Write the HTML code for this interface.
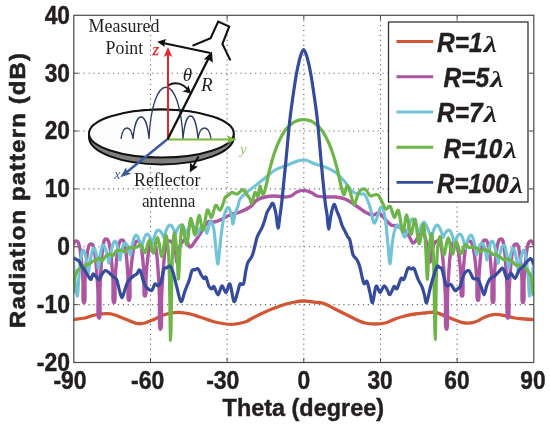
<!DOCTYPE html>
<html><head><meta charset="utf-8"><title>Radiation pattern</title>
<style>html,body{margin:0;padding:0;background:#fff}svg{display:block}text{font-family:"Liberation Sans",Arial,sans-serif}.s{font-family:"Liberation Serif","Times New Roman",serif}</style></head><body>
<svg width="550" height="430" viewBox="0 0 550 430">
<rect width="550" height="430" fill="#fff"/>
<path d="M150.5,15.3V362.5M227.1,15.3V362.5M303.8,15.3V362.5M380.5,15.3V362.5M457.1,15.3V362.5M73.8,73.2H533.8M73.8,131.0H533.8M73.8,188.9H533.8M73.8,246.8H533.8M73.8,304.6H533.8" stroke="#6a6a6a" stroke-width="1.1" stroke-dasharray="1.2 3.7" fill="none"/>
<g id="inset">
<ellipse cx="161.4" cy="137" rx="72.4" ry="27.4" fill="#7f7f7f" stroke="#111" stroke-width="2"/>
<ellipse cx="161.4" cy="133.5" rx="72.4" ry="24" fill="#fdfdfd" stroke="#111" stroke-width="2"/>
<path d="M121,139 C123,124.3 131,124.3 133,139 C135.5,109.7 146.5,109.7 149,139 C152,70 180,70 183,139 C185.5,108.3 195.5,108.3 198,139 C200,124.3 209,124.3 211,139" fill="none" stroke="#2a3968" stroke-width="1.3"/>
<path d="M167,139.5L124.5,174" stroke="#3c5a9c" stroke-width="2.4" fill="none"/>
<path d="M120.3,177.3L131.3,173.7L126.9,172.1L126.1,167.3Z" fill="#3c5a9c"/>
<path d="M167,139.5H230" stroke="#7ab83f" stroke-width="2.2" fill="none"/>
<path d="M236.5,139.5L226.5,135.2L229,139.5L226.5,143.8Z" fill="#7ab83f"/>
<path d="M168,139.5V54" stroke="#e3262e" stroke-width="2" fill="none"/>
<path d="M168,47L163.8,57L168,54.8L172.2,57Z" fill="#e3262e"/>
<path d="M167.5,139.5L209,57.5" stroke="#111" stroke-width="2.3" fill="none"/>
<path d="M212,51.6L203.6,59.4L208.6,59.4L212.8,62.8Z" fill="#111"/>
<path d="M210.5,53L163,43" stroke="#111" stroke-width="2.1" fill="none"/>
<path d="M157.2,41.7L166,39L164.4,43.2L164.6,47Z" fill="#111"/>
<path d="M192.5,45.8L210.6,38.2L218.2,21.6L229.2,26.6L222.4,44L230.4,60.4" stroke="#111" stroke-width="2.1" fill="none" stroke-linejoin="miter"/>
<path d="M168.5,85.2C175,81.3 183,83.5 187.5,89.5" stroke="#111" stroke-width="1.9" fill="none"/>
<path d="M191.2,93.6L182.4,91.4L186.6,89.4L188.4,85.2Z" fill="#111"/>
<path d="M198.6,156.3L192.8,167" stroke="#111" stroke-width="1.9" fill="none"/>
<path d="M189.8,172.6L190,162L193,165.8L198,166.4Z" fill="#111"/>
<g fill="#231f20">
<text class="s" x="88.6" y="32" font-size="18.3" textLength="71" lengthAdjust="spacingAndGlyphs">Measured</text>
<text class="s" x="105.6" y="53.6" font-size="18.3" textLength="37.6" lengthAdjust="spacingAndGlyphs">Point</text>
<text class="s" x="134" y="185.8" font-size="18.3" textLength="66.4" lengthAdjust="spacingAndGlyphs">Reflector</text>
<text class="s" x="142" y="207.2" font-size="18.3" textLength="53.4" lengthAdjust="spacingAndGlyphs">antenna</text>
<text class="s" x="182.8" y="80.6" font-size="19" font-style="italic">θ</text>
<text class="s" x="201" y="91" font-size="19" font-style="italic">R</text>
<text class="s" x="152.6" y="55.4" font-size="17" font-style="italic" stroke="#e3262e" stroke-width="0.25" fill="#e3262e">z</text>
<text class="s" x="240" y="153.6" font-size="15" font-style="italic" fill="#94c765">y</text>
<text class="s" x="114.2" y="179" font-size="14" font-style="italic" fill="#3c5a9c">x</text>
</g>
</g>

<clipPath id="c"><rect x="73.8" y="15.3" width="459.99999999999994" height="347.2"/></clipPath>
<g clip-path="url(#c)" fill="none" stroke-linejoin="round" stroke-linecap="round" stroke-width="3.1">
<path d="M73.5,319.5C75.4,319.2 81.4,318.8 85.0,318.0C88.6,317.2 91.3,315.7 95.0,315.0C98.7,314.3 103.7,313.7 107.0,313.7C110.3,313.7 112.0,314.1 115.0,315.0C118.0,315.9 121.3,317.6 125.0,319.0C128.7,320.4 133.7,322.8 137.0,323.5C140.3,324.2 142.0,323.8 145.0,323.0C148.0,322.2 151.7,320.4 155.0,319.0C158.3,317.6 161.2,315.6 165.0,314.5C168.8,313.4 173.8,312.5 178.0,312.4C182.2,312.3 186.3,313.2 190.0,314.0C193.7,314.8 195.8,315.7 200.0,317.0C204.2,318.3 209.8,320.8 215.0,322.0C220.2,323.2 226.0,324.4 231.0,324.4C236.0,324.4 241.8,322.8 245.0,322.0C248.2,321.2 246.7,321.2 250.0,319.5C253.3,317.8 260.0,314.2 265.0,312.0C270.0,309.8 275.0,307.7 280.0,306.0C285.0,304.3 291.1,302.8 295.0,302.0C298.9,301.2 301.0,301.1 303.5,301.0C306.0,300.9 307.6,301.2 310.0,301.5C312.4,301.8 315.5,302.1 318.0,302.5C320.5,302.9 322.2,302.9 325.0,304.0C327.8,305.1 331.7,307.3 335.0,309.0C338.3,310.7 341.7,312.3 345.0,314.0C348.3,315.7 351.7,317.5 355.0,319.0C358.3,320.5 361.7,322.2 365.0,323.0C368.3,323.8 371.7,324.0 375.0,324.0C378.3,324.0 381.7,323.8 385.0,323.0C388.3,322.2 391.7,320.2 395.0,319.0C398.3,317.8 401.7,316.8 405.0,316.0C408.3,315.2 411.7,314.5 415.0,314.0C418.3,313.5 421.7,313.3 425.0,313.0C428.3,312.7 431.7,311.9 435.0,312.4C438.3,312.9 441.7,314.7 445.0,316.0C448.3,317.3 451.7,318.8 455.0,320.0C458.3,321.2 461.7,322.7 465.0,323.0C468.3,323.3 471.7,323.0 475.0,322.0C478.3,321.0 481.7,318.3 485.0,317.0C488.3,315.7 491.7,314.6 495.0,314.4C498.3,314.2 501.7,315.0 505.0,315.6C508.3,316.2 511.7,317.4 515.0,318.0C518.3,318.6 521.9,318.7 525.0,319.0C528.1,319.3 532.1,319.5 533.5,319.6" stroke="#d15634" stroke-width="3.3"/>
<path d="M73.6,243.9C73.8,243.5 74.3,242.0 74.7,241.6C75.0,241.1 75.4,241.1 75.7,241.0C76.1,240.9 76.4,240.9 76.8,241.1C77.1,241.2 77.4,241.4 77.8,241.9C78.1,242.4 78.5,243.1 78.8,244.2C79.2,245.3 79.5,246.7 79.9,248.7C80.2,250.6 80.5,252.9 80.9,255.9C81.2,258.9 81.6,262.3 81.9,266.5C82.3,270.7 82.8,275.4 83.0,281.0C83.2,286.6 82.8,296.8 83.1,300.0C83.4,303.2 84.6,303.3 84.9,300.0C85.2,296.7 84.8,286.1 85.0,280.4C85.2,274.7 85.7,269.9 86.0,265.8C86.3,261.7 86.7,258.5 87.0,255.7C87.3,252.9 87.7,250.9 88.0,249.2C88.3,247.6 88.7,246.5 89.0,245.7C89.3,244.8 89.7,244.5 90.0,244.2C90.3,244.0 90.7,244.0 91.0,244.0C91.3,244.0 91.7,244.0 92.0,244.2C92.3,244.5 92.7,244.7 93.0,245.5C93.3,246.2 93.7,247.1 94.0,248.6C94.3,250.0 94.7,251.8 95.0,254.2C95.3,256.6 95.7,259.5 96.0,263.0C96.3,266.6 96.7,270.8 97.0,275.7C97.3,280.7 97.8,286.3 98.0,292.9C98.2,299.4 97.8,311.3 98.1,315.0C98.4,318.7 99.6,319.4 99.9,315.0C100.2,310.6 99.8,296.1 100.0,288.4C100.2,280.6 100.7,274.2 101.0,268.6C101.3,263.0 101.7,258.6 102.0,254.9C102.3,251.1 102.7,248.4 103.0,246.1C103.3,243.8 103.7,242.4 104.0,241.3C104.3,240.2 104.7,239.7 105.0,239.3C105.3,238.9 105.7,239.0 106.0,239.0C106.3,239.0 106.7,239.0 107.0,239.2C107.3,239.4 107.7,239.6 108.0,240.3C108.3,240.9 108.7,241.7 109.0,242.9C109.3,244.2 109.7,245.7 110.0,247.8C110.3,249.8 110.7,252.3 111.0,255.4C111.3,258.4 111.7,262.0 112.0,266.3C112.3,270.5 112.8,275.3 113.0,281.0C113.2,286.6 112.8,296.8 113.1,300.0C113.4,303.2 114.6,303.1 114.9,300.0C115.2,296.9 114.8,286.8 115.0,281.3C115.2,275.8 115.7,271.0 116.0,266.8C116.3,262.6 116.7,259.1 117.0,256.1C117.3,253.1 117.7,250.7 118.0,248.6C118.3,246.6 118.7,245.1 119.0,243.8C119.3,242.6 119.7,241.8 120.0,241.2C120.3,240.6 120.7,240.4 121.0,240.2C121.3,240.0 121.7,240.0 122.0,240.0C122.3,240.0 122.7,240.0 123.0,240.2C123.3,240.5 123.7,240.9 124.0,241.7C124.3,242.6 124.7,243.7 125.0,245.4C125.3,247.1 125.7,249.2 126.0,252.1C126.3,255.0 126.7,258.3 127.0,262.6C127.3,266.9 127.8,271.8 128.0,277.7C128.2,283.6 127.8,294.6 128.1,298.0C128.4,301.4 129.6,300.7 129.9,298.0C130.2,295.3 129.8,286.8 130.0,282.0C130.2,277.2 130.7,273.0 131.0,269.2C131.3,265.4 131.7,262.2 132.0,259.3C132.3,256.4 132.7,254.1 133.0,252.0C133.3,249.9 133.7,248.3 134.0,246.9C134.3,245.5 134.7,244.5 135.0,243.6C135.3,242.8 135.7,242.3 136.0,241.8C136.3,241.4 136.7,241.3 137.0,241.1C137.3,241.0 137.7,241.0 138.0,241.0C138.3,241.0 138.7,241.0 139.0,241.2C139.3,241.5 139.7,241.8 140.0,242.6C140.3,243.4 140.7,244.4 141.0,245.9C141.3,247.5 141.7,249.4 142.0,252.1C142.3,254.7 142.7,257.8 143.0,261.7C143.3,265.6 143.8,270.0 144.0,275.4C144.2,280.8 143.8,290.9 144.1,294.0C144.4,297.1 145.6,296.6 145.9,294.0C146.2,291.4 145.8,282.9 146.0,278.2C146.1,273.5 146.6,269.5 146.9,265.9C147.3,262.3 147.6,259.3 147.9,256.7C148.2,254.1 148.6,251.9 148.9,250.1C149.2,248.3 149.5,247.0 149.8,245.8C150.2,244.7 150.5,244.0 150.8,243.4C151.1,242.8 151.5,242.5 151.8,242.3C152.1,242.0 152.4,242.0 152.8,242.0C153.1,242.0 153.4,241.9 153.7,242.1C154.0,242.3 154.4,242.5 154.7,243.3C155.0,244.0 155.3,245.0 155.7,246.6C156.0,248.2 156.3,250.2 156.6,253.0C156.9,255.8 157.3,259.1 157.6,263.3C157.9,267.5 158.2,272.4 158.6,278.4C158.9,284.3 159.4,291.1 159.5,299.0C159.7,307.0 159.3,321.5 159.6,326.0C159.9,330.5 161.1,330.3 161.4,326.0C161.7,321.7 161.3,307.8 161.5,300.2C161.7,292.5 162.2,285.9 162.6,280.0C162.9,274.2 163.2,269.2 163.6,264.9C163.9,260.6 164.3,257.2 164.6,254.2C165.0,251.3 165.3,249.1 165.7,247.2C166.0,245.4 166.3,244.2 166.7,243.2C167.0,242.3 167.4,241.8 167.7,241.4C168.1,241.1 168.4,241.1 168.8,241.0C169.1,240.9 169.4,241.0 169.8,241.0C170.1,241.1 170.5,241.1 170.8,241.3C171.2,241.5 171.5,241.8 171.8,242.2C172.2,242.6 172.5,243.1 172.9,243.8C173.2,244.5 173.6,245.3 173.9,246.3C174.2,247.4 174.6,248.6 174.9,250.1C175.3,251.6 175.6,253.3 176.0,255.3C176.3,257.3 176.5,263.2 177.0,262.0C177.5,260.8 178.0,251.5 179.0,248.0C180.0,244.5 181.8,242.3 183.0,241.0C184.2,239.7 184.8,239.0 186.0,240.0C187.2,241.0 188.7,246.5 190.0,247.0C191.3,247.5 192.3,245.2 194.0,243.0C195.7,240.8 197.7,237.5 200.0,234.0C202.3,230.5 205.7,224.0 208.0,222.0C210.3,220.0 212.0,222.3 214.0,222.0C216.0,221.7 217.3,221.2 220.0,220.0C222.7,218.8 226.7,216.3 230.0,215.0C233.3,213.7 236.7,213.3 240.0,212.0C243.3,210.7 247.2,209.0 250.0,207.0C252.8,205.0 254.5,201.7 257.0,200.0C259.5,198.3 262.0,197.7 265.0,197.0C268.0,196.3 271.7,196.0 275.0,196.0C278.3,196.0 282.3,197.0 285.0,197.0C287.7,197.0 289.0,196.8 291.0,196.0C293.0,195.2 294.9,192.9 297.0,192.0C299.1,191.1 301.2,190.3 303.5,190.4C305.8,190.5 308.8,191.5 311.0,192.4C313.2,193.3 314.7,195.2 317.0,196.0C319.3,196.8 322.0,196.8 325.0,197.0C328.0,197.2 331.7,196.7 335.0,197.0C338.3,197.3 341.7,197.7 345.0,199.0C348.3,200.3 351.7,202.8 355.0,205.0C358.3,207.2 362.0,210.3 365.0,212.0C368.0,213.7 370.7,214.8 373.0,215.0C375.3,215.2 377.0,212.3 379.0,213.0C381.0,213.7 383.0,217.0 385.0,219.0C387.0,221.0 389.0,223.8 391.0,225.0C393.0,226.2 394.7,225.0 397.0,226.0C399.3,227.0 402.8,229.0 405.0,231.0C407.2,233.0 408.7,236.0 410.0,238.0C411.3,240.0 411.8,242.8 413.0,243.0C414.2,243.2 415.7,241.0 417.0,239.0C418.3,237.0 419.7,231.3 421.0,231.0C422.3,230.7 423.8,233.8 425.0,237.0C426.2,240.2 427.2,245.8 428.0,250.0C428.8,254.2 429.5,261.1 430.0,262.0C430.5,262.9 430.7,257.3 431.0,255.3C431.4,253.3 431.7,251.6 432.1,250.1C432.4,248.6 432.8,247.4 433.1,246.3C433.4,245.3 433.8,244.5 434.1,243.8C434.5,243.1 434.8,242.6 435.2,242.2C435.5,241.8 435.8,241.5 436.2,241.3C436.5,241.1 436.9,241.1 437.2,241.0C437.6,241.0 437.9,240.9 438.2,241.0C438.6,241.1 438.9,241.1 439.3,241.4C439.6,241.8 440.0,242.3 440.3,243.2C440.7,244.2 441.0,245.4 441.3,247.2C441.7,249.1 442.0,251.3 442.4,254.2C442.7,257.2 443.1,260.6 443.4,264.9C443.8,269.2 444.1,274.2 444.4,280.0C444.8,285.9 445.3,292.5 445.5,300.2C445.7,307.8 445.3,321.7 445.6,326.0C445.9,330.3 447.1,330.5 447.4,326.0C447.7,321.5 447.3,307.0 447.5,299.0C447.6,291.1 448.1,284.3 448.4,278.4C448.8,272.4 449.1,267.5 449.4,263.3C449.7,259.1 450.1,255.8 450.4,253.0C450.7,250.2 451.0,248.2 451.3,246.6C451.7,245.0 452.0,244.0 452.3,243.3C452.6,242.5 453.0,242.3 453.3,242.1C453.6,241.9 453.9,242.0 454.2,242.0C454.6,242.0 454.9,242.0 455.2,242.3C455.5,242.5 455.9,242.8 456.2,243.4C456.5,244.0 456.8,244.7 457.2,245.8C457.5,247.0 457.8,248.3 458.1,250.1C458.4,251.9 458.8,254.1 459.1,256.7C459.4,259.3 459.7,262.3 460.1,265.9C460.4,269.5 460.9,273.5 461.0,278.2C461.2,282.9 460.8,291.4 461.1,294.0C461.4,296.6 462.6,297.1 462.9,294.0C463.2,290.9 462.8,280.8 463.0,275.4C463.2,270.0 463.7,265.6 464.0,261.7C464.3,257.8 464.7,254.7 465.0,252.1C465.3,249.4 465.7,247.5 466.0,245.9C466.3,244.4 466.7,243.4 467.0,242.6C467.3,241.8 467.7,241.5 468.0,241.2C468.3,241.0 468.7,241.0 469.0,241.0C469.3,241.0 469.7,241.0 470.0,241.1C470.3,241.3 470.7,241.4 471.0,241.8C471.3,242.3 471.7,242.8 472.0,243.6C472.3,244.5 472.7,245.5 473.0,246.9C473.3,248.3 473.7,249.9 474.0,252.0C474.3,254.1 474.7,256.4 475.0,259.3C475.3,262.2 475.7,265.4 476.0,269.2C476.3,273.0 476.8,277.2 477.0,282.0C477.2,286.8 476.8,295.3 477.1,298.0C477.4,300.7 478.6,301.4 478.9,298.0C479.2,294.6 478.8,283.6 479.0,277.7C479.2,271.8 479.7,266.9 480.0,262.6C480.3,258.3 480.7,255.0 481.0,252.1C481.3,249.2 481.7,247.1 482.0,245.4C482.3,243.7 482.7,242.6 483.0,241.7C483.3,240.9 483.7,240.5 484.0,240.2C484.3,240.0 484.7,240.0 485.0,240.0C485.3,240.0 485.7,240.0 486.0,240.2C486.3,240.4 486.7,240.6 487.0,241.2C487.3,241.8 487.7,242.6 488.0,243.8C488.3,245.1 488.7,246.6 489.0,248.6C489.3,250.7 489.7,253.1 490.0,256.1C490.3,259.1 490.7,262.6 491.0,266.8C491.3,271.0 491.8,275.8 492.0,281.3C492.2,286.8 491.8,296.9 492.1,300.0C492.4,303.1 493.6,303.2 493.9,300.0C494.2,296.8 493.8,286.6 494.0,281.0C494.2,275.3 494.7,270.5 495.0,266.3C495.3,262.0 495.7,258.4 496.0,255.4C496.3,252.3 496.7,249.8 497.0,247.8C497.3,245.7 497.7,244.2 498.0,242.9C498.3,241.7 498.7,240.9 499.0,240.3C499.3,239.6 499.7,239.4 500.0,239.2C500.3,239.0 500.7,239.0 501.0,239.0C501.3,239.0 501.7,238.9 502.0,239.3C502.3,239.7 502.7,240.2 503.0,241.3C503.3,242.4 503.7,243.8 504.0,246.1C504.3,248.4 504.7,251.1 505.0,254.9C505.3,258.6 505.7,263.0 506.0,268.6C506.3,274.2 506.8,280.6 507.0,288.4C507.2,296.1 506.8,310.6 507.1,315.0C507.4,319.4 508.6,318.7 508.9,315.0C509.2,311.3 508.8,299.4 509.0,292.9C509.2,286.3 509.7,280.7 510.0,275.7C510.3,270.8 510.7,266.6 511.0,263.0C511.3,259.5 511.7,256.6 512.0,254.2C512.3,251.8 512.7,250.0 513.0,248.6C513.3,247.1 513.7,246.2 514.0,245.5C514.3,244.7 514.7,244.5 515.0,244.2C515.3,244.0 515.7,244.0 516.0,244.0C516.3,244.0 516.7,244.0 517.0,244.2C517.3,244.5 517.7,244.8 518.0,245.7C518.3,246.5 518.7,247.6 519.0,249.2C519.3,250.9 519.7,252.9 520.0,255.7C520.3,258.5 520.7,261.7 521.0,265.8C521.3,269.9 521.8,274.7 522.0,280.4C522.2,286.1 521.8,296.7 522.1,300.0C522.4,303.3 523.6,303.2 523.9,300.0C524.2,296.8 523.8,286.6 524.0,281.0C524.2,275.4 524.7,270.7 525.1,266.5C525.4,262.3 525.8,258.9 526.1,255.9C526.5,252.9 526.8,250.6 527.1,248.7C527.5,246.7 527.8,245.3 528.2,244.2C528.5,243.1 528.9,242.4 529.2,241.9C529.6,241.4 529.9,241.2 530.2,241.1C530.6,240.9 530.9,240.9 531.3,241.0C531.6,241.1 532.0,241.1 532.3,241.6C532.7,242.0 533.2,243.5 533.4,243.9" stroke="#ac55a3" stroke-width="3.4"/>
<path d="M73.5,262.0C73.8,265.8 74.8,279.3 75.5,285.0C76.2,290.7 77.0,296.5 77.5,296.0C78.0,295.5 78.2,286.3 78.5,282.1C78.8,277.8 79.2,273.9 79.5,270.4C79.8,266.9 80.2,263.8 80.5,261.1C80.8,258.5 81.2,256.2 81.5,254.4C81.8,252.7 82.2,251.3 82.5,250.6C82.8,249.9 83.2,250.0 83.5,250.3C83.8,250.6 84.2,251.3 84.5,252.2C84.8,253.1 85.2,254.2 85.5,255.6C85.8,256.9 86.2,258.5 86.5,260.2C86.8,261.9 87.2,263.9 87.5,266.0C87.8,268.2 88.2,273.1 88.5,273.0C88.8,272.9 89.2,267.7 89.5,265.4C89.8,263.1 90.2,261.0 90.5,259.1C90.8,257.2 91.2,255.5 91.5,254.0C91.8,252.6 92.2,251.4 92.5,250.4C92.8,249.5 93.2,248.7 93.5,248.3C93.8,248.0 94.2,248.0 94.5,248.4C94.8,248.8 95.2,249.7 95.5,250.8C95.8,251.9 96.2,253.4 96.5,255.1C96.8,256.8 97.2,258.8 97.5,261.0C97.8,263.2 98.2,268.7 98.5,268.4C98.8,268.2 99.2,262.2 99.5,259.5C99.9,256.9 100.2,254.5 100.6,252.6C100.9,250.6 101.3,248.9 101.7,247.7C102.0,246.5 102.4,245.6 102.7,245.2C103.0,244.8 103.4,245.1 103.8,245.4C104.1,245.8 104.5,246.4 104.8,247.1C105.1,247.8 105.5,248.7 105.8,249.8C106.2,250.8 106.6,252.0 106.9,253.4C107.2,254.8 107.6,256.3 108.0,257.9C108.3,259.5 108.7,263.4 109.0,263.2C109.3,263.1 109.7,258.9 110.0,257.0C110.3,255.1 110.7,253.3 111.0,251.7C111.3,250.1 111.7,248.7 112.0,247.4C112.3,246.1 112.7,245.0 113.0,244.1C113.3,243.2 113.7,242.4 114.0,241.9C114.3,241.4 114.7,241.0 115.0,241.0C115.3,241.0 115.7,241.4 116.0,242.0C116.3,242.7 116.7,243.6 117.0,244.7C117.3,245.7 117.7,247.1 118.0,248.6C118.3,250.1 118.7,251.8 119.0,253.7C119.3,255.6 119.7,259.9 120.0,260.0C120.3,260.1 120.7,255.9 121.0,254.1C121.4,252.4 121.8,250.8 122.1,249.4C122.4,248.0 122.8,246.8 123.2,245.8C123.5,244.9 123.9,244.1 124.2,243.6C124.5,243.2 124.9,243.0 125.2,243.0C125.6,243.1 126.0,243.5 126.3,243.9C126.6,244.3 127.0,244.9 127.3,245.6C127.7,246.3 128.1,247.2 128.4,248.1C128.8,249.0 129.1,250.1 129.4,251.3C129.8,252.5 130.2,255.5 130.5,255.1C130.8,254.7 131.2,250.9 131.5,249.0C131.8,247.2 132.2,245.4 132.5,243.9C132.8,242.4 133.2,241.0 133.5,239.9C133.8,238.7 134.2,237.7 134.5,236.9C134.8,236.2 135.2,235.6 135.5,235.3C135.8,235.0 136.2,235.0 136.5,235.2C136.8,235.4 137.2,235.8 137.5,236.3C137.8,236.8 138.2,237.5 138.5,238.3C138.8,239.1 139.2,240.0 139.5,241.0C139.8,242.0 140.2,243.2 140.5,244.5C140.8,245.7 141.2,248.6 141.5,248.6C141.8,248.5 142.2,245.5 142.5,244.1C142.8,242.8 143.2,241.6 143.5,240.5C143.8,239.4 144.2,238.4 144.5,237.5C144.8,236.7 145.2,236.0 145.5,235.4C145.8,234.8 146.2,234.4 146.5,234.2C146.8,234.0 147.2,234.0 147.5,234.1C147.8,234.3 148.2,234.6 148.5,235.0C148.8,235.3 149.2,235.8 149.5,236.4C149.8,237.0 150.2,237.7 150.5,238.4C150.8,239.2 151.2,240.0 151.5,241.0C151.8,241.9 152.2,244.2 152.5,244.0C152.8,243.8 153.1,241.2 153.5,239.9C153.8,238.7 154.1,237.5 154.4,236.5C154.7,235.4 155.1,234.5 155.4,233.7C155.7,232.9 156.0,232.2 156.3,231.6C156.7,231.1 157.0,230.6 157.3,230.3C157.6,230.1 157.9,230.0 158.2,230.0C158.6,230.0 158.9,230.2 159.2,230.4C159.5,230.6 159.8,230.9 160.2,231.2C160.5,231.5 160.8,231.9 161.1,232.3C161.4,232.7 161.8,233.2 162.1,233.7C162.4,234.2 162.7,234.8 163.0,235.4C163.4,236.1 163.7,237.7 164.0,237.4C164.3,237.2 164.6,235.1 165.0,234.1C165.3,233.1 165.6,232.1 165.9,231.2C166.2,230.3 166.6,229.5 166.9,228.8C167.2,228.1 167.5,227.5 167.8,227.0C168.2,226.5 168.5,226.0 168.8,225.7C169.1,225.4 169.4,225.1 169.8,225.0C170.1,225.0 170.4,225.1 170.7,225.2C171.0,225.4 171.3,225.7 171.7,226.0C172.0,226.4 172.3,226.9 172.6,227.4C172.9,227.9 173.3,228.5 173.6,229.2C173.9,229.8 174.2,230.6 174.5,231.4C174.9,232.2 175.2,234.0 175.5,234.0C175.8,234.0 176.2,232.1 176.5,231.3C176.8,230.4 177.2,229.7 177.5,229.0C177.8,228.3 178.2,227.7 178.5,227.2C178.8,226.7 179.2,226.2 179.5,225.9C179.8,225.5 180.2,225.2 180.5,225.1C180.8,225.0 181.2,225.0 181.5,225.1C181.8,225.2 182.2,225.5 182.5,225.9C182.8,226.2 183.2,226.7 183.5,227.2C183.8,227.7 184.2,228.3 184.5,229.0C184.8,229.7 185.2,230.4 185.5,231.3C185.8,232.1 186.2,234.0 186.5,234.0C186.8,234.0 187.2,232.1 187.5,231.3C187.8,230.4 188.2,229.7 188.5,229.0C188.8,228.3 189.2,227.7 189.5,227.2C189.8,226.7 190.2,226.2 190.5,225.9C190.8,225.5 191.2,225.2 191.5,225.1C191.8,225.0 192.2,225.0 192.5,225.1C192.8,225.3 193.2,225.6 193.5,225.9C193.8,226.3 194.2,226.7 194.5,227.3C194.8,227.8 195.2,228.5 195.5,229.2C195.8,229.9 196.2,230.7 196.5,231.6C196.8,232.5 197.2,234.4 197.5,234.5C197.8,234.6 198.1,232.8 198.4,232.0C198.8,231.3 199.1,230.6 199.4,230.0C199.7,229.3 200.0,228.8 200.3,228.3C200.7,227.8 201.0,227.4 201.3,227.0C201.6,226.7 201.9,226.4 202.2,226.2C202.6,226.1 202.9,225.9 203.2,226.0C203.5,226.1 203.8,226.4 204.2,226.7C204.5,227.1 204.8,227.6 205.1,228.2C205.4,228.8 205.7,229.5 206.1,230.3C206.4,231.1 206.3,234.4 207.0,233.0C207.7,231.6 209.2,223.7 210.0,222.0C210.8,220.3 211.3,221.7 212.0,223.0C212.7,224.3 213.3,225.5 214.0,230.0C214.7,234.5 215.3,244.3 216.0,250.0C216.7,255.7 217.3,264.8 218.0,264.0C218.7,263.2 219.2,252.0 220.0,245.0C220.8,238.0 222.0,227.8 223.0,222.0C224.0,216.2 225.0,212.3 226.0,210.0C227.0,207.7 228.1,207.0 229.0,208.0C229.9,209.0 230.8,213.3 231.5,216.0C232.2,218.7 232.4,224.3 233.0,224.0C233.6,223.7 234.2,217.0 235.0,214.0C235.8,211.0 237.2,208.5 238.0,206.0C238.8,203.5 238.5,201.3 240.0,199.0C241.5,196.7 244.5,194.2 247.0,192.0C249.5,189.8 252.0,188.3 255.0,186.0C258.0,183.7 261.7,180.7 265.0,178.0C268.3,175.3 271.7,172.0 275.0,170.0C278.3,168.0 281.7,167.3 285.0,166.0C288.3,164.7 292.6,162.9 295.0,162.0C297.4,161.1 298.1,160.9 299.5,160.6C300.9,160.3 302.2,160.0 303.5,160.0C304.8,160.0 305.6,159.9 307.5,160.6C309.4,161.3 312.1,162.9 315.0,164.0C317.9,165.1 321.7,165.7 325.0,167.0C328.3,168.3 331.7,169.5 335.0,172.0C338.3,174.5 342.0,178.7 345.0,182.0C348.0,185.3 350.3,190.0 353.0,192.0C355.7,194.0 359.0,193.5 361.0,194.0C363.0,194.5 363.5,192.8 365.0,195.0C366.5,197.2 368.5,202.3 370.0,207.0C371.5,211.7 372.7,221.7 374.0,223.0C375.3,224.3 376.8,217.7 378.0,215.0C379.2,212.3 379.8,206.7 381.0,207.0C382.2,207.3 383.8,210.7 385.0,217.0C386.2,223.3 387.2,237.2 388.0,245.0C388.8,252.8 389.3,264.0 390.0,264.0C390.7,264.0 391.3,250.2 392.0,245.0C392.7,239.8 393.2,236.3 394.0,233.0C394.8,229.7 395.8,225.7 397.0,225.0C398.2,224.3 399.7,227.0 401.0,229.0C402.3,231.0 403.7,237.7 405.0,237.0C406.3,236.3 407.8,228.0 409.0,225.0C410.2,222.0 411.0,219.5 412.0,219.0C413.0,218.5 414.0,219.8 415.0,222.0C416.0,224.2 417.0,231.3 418.0,232.0C419.0,232.7 420.0,227.7 421.0,226.0C422.0,224.3 423.0,221.8 424.0,222.0C425.0,222.2 425.8,224.3 427.0,227.0C428.2,229.7 430.6,236.8 431.5,238.0C432.4,239.2 432.1,235.4 432.5,234.2C432.8,233.0 433.1,232.0 433.4,231.0C433.7,230.0 434.1,229.2 434.4,228.4C434.7,227.7 435.0,227.0 435.3,226.5C435.7,226.0 436.0,225.6 436.3,225.3C436.6,225.1 436.9,225.0 437.2,225.0C437.6,225.1 437.9,225.4 438.2,225.7C438.5,226.0 438.8,226.5 439.2,227.0C439.5,227.5 439.8,228.1 440.1,228.8C440.4,229.5 440.8,230.3 441.1,231.2C441.4,232.1 441.7,233.1 442.0,234.1C442.4,235.1 442.7,237.2 443.0,237.4C443.3,237.7 443.6,236.1 444.0,235.4C444.3,234.8 444.6,234.2 444.9,233.7C445.2,233.2 445.6,232.7 445.9,232.3C446.2,231.9 446.5,231.5 446.8,231.2C447.2,230.9 447.5,230.6 447.8,230.4C448.1,230.2 448.4,230.0 448.8,230.0C449.1,230.0 449.4,230.1 449.7,230.3C450.0,230.6 450.3,231.1 450.7,231.6C451.0,232.2 451.3,232.9 451.6,233.7C451.9,234.5 452.3,235.4 452.6,236.5C452.9,237.5 453.2,238.7 453.5,239.9C453.9,241.2 454.2,243.8 454.5,244.0C454.8,244.2 455.2,241.9 455.5,241.0C455.8,240.0 456.2,239.2 456.5,238.4C456.8,237.7 457.2,237.0 457.5,236.4C457.8,235.8 458.2,235.3 458.5,235.0C458.8,234.6 459.2,234.3 459.5,234.1C459.8,234.0 460.2,234.0 460.5,234.2C460.8,234.4 461.2,234.8 461.5,235.4C461.8,236.0 462.2,236.7 462.5,237.5C462.8,238.4 463.2,239.4 463.5,240.5C463.8,241.6 464.2,242.8 464.5,244.1C464.8,245.5 465.2,248.5 465.5,248.6C465.8,248.6 466.2,245.7 466.5,244.5C466.8,243.2 467.2,242.0 467.5,241.0C467.8,240.0 468.2,239.1 468.5,238.3C468.8,237.5 469.2,236.8 469.5,236.3C469.8,235.8 470.2,235.4 470.5,235.2C470.8,235.0 471.2,235.0 471.5,235.3C471.8,235.6 472.2,236.2 472.5,236.9C472.8,237.7 473.2,238.7 473.5,239.9C473.8,241.0 474.2,242.4 474.5,243.9C474.8,245.4 475.2,247.2 475.5,249.0C475.8,250.9 476.2,254.7 476.5,255.1C476.8,255.5 477.2,252.5 477.6,251.3C477.9,250.1 478.2,249.0 478.6,248.1C479.0,247.2 479.3,246.3 479.6,245.6C480.0,244.9 480.3,244.3 480.7,243.9C481.1,243.5 481.4,243.1 481.8,243.0C482.1,243.0 482.4,243.2 482.8,243.6C483.2,244.1 483.5,244.9 483.9,245.8C484.2,246.8 484.5,248.0 484.9,249.4C485.2,250.8 485.6,252.4 485.9,254.1C486.3,255.9 486.7,260.1 487.0,260.0C487.3,259.9 487.7,255.6 488.0,253.7C488.3,251.8 488.7,250.1 489.0,248.6C489.3,247.1 489.7,245.7 490.0,244.7C490.3,243.6 490.7,242.7 491.0,242.0C491.3,241.4 491.7,241.0 492.0,241.0C492.3,241.0 492.7,241.4 493.0,241.9C493.3,242.4 493.7,243.2 494.0,244.1C494.3,245.0 494.7,246.1 495.0,247.4C495.3,248.7 495.7,250.1 496.0,251.7C496.3,253.3 496.7,255.1 497.0,257.0C497.3,258.9 497.7,263.1 498.0,263.2C498.3,263.4 498.7,259.5 499.1,257.9C499.4,256.3 499.8,254.8 500.1,253.4C500.5,252.0 500.8,250.8 501.1,249.8C501.5,248.7 501.8,247.8 502.2,247.1C502.6,246.4 502.9,245.8 503.2,245.4C503.6,245.1 503.9,244.8 504.3,245.2C504.7,245.6 505.0,246.5 505.4,247.7C505.7,248.9 506.0,250.6 506.4,252.6C506.8,254.5 507.1,256.9 507.4,259.5C507.8,262.2 508.2,268.2 508.5,268.4C508.8,268.7 509.2,263.2 509.5,261.0C509.8,258.8 510.2,256.8 510.5,255.1C510.8,253.4 511.2,251.9 511.5,250.8C511.8,249.7 512.2,248.8 512.5,248.4C512.8,248.0 513.2,248.0 513.5,248.3C513.8,248.7 514.2,249.5 514.5,250.4C514.8,251.4 515.2,252.6 515.5,254.0C515.8,255.5 516.2,257.2 516.5,259.1C516.8,261.0 517.2,263.1 517.5,265.4C517.8,267.7 518.2,272.9 518.5,273.0C518.8,273.1 519.2,268.2 519.5,266.0C519.8,263.9 520.2,261.9 520.5,260.2C520.8,258.5 521.2,256.9 521.5,255.6C521.8,254.2 522.2,253.1 522.5,252.2C522.8,251.3 523.2,250.6 523.5,250.3C523.8,250.0 524.2,249.9 524.5,250.6C524.8,251.3 525.2,252.7 525.5,254.4C525.8,256.2 526.2,258.5 526.5,261.1C526.8,263.8 527.2,266.9 527.5,270.4C527.8,273.9 528.2,277.8 528.5,282.1C528.8,286.3 529.0,295.5 529.5,296.0C530.0,296.5 530.8,290.7 531.5,285.0C532.2,279.3 533.2,265.8 533.5,262.0" stroke="#72c3d7" stroke-width="3.1"/>
<path d="M73.5,292.0C73.7,289.8 74.0,282.1 74.6,278.6C75.2,275.2 76.1,272.9 77.0,271.2C77.9,269.5 79.0,269.3 80.0,268.3C81.0,267.4 82.0,266.1 83.0,265.6C84.0,265.0 84.8,265.4 86.0,265.1C87.2,264.8 88.8,264.4 90.0,263.7C91.2,263.0 92.0,261.6 93.0,261.0C94.0,260.5 95.0,261.0 96.0,260.5C97.0,260.0 98.0,257.9 99.0,258.0C100.0,258.0 101.0,261.0 102.0,260.9C103.0,260.7 104.1,258.0 105.0,257.1C105.9,256.1 106.7,255.6 107.5,255.1C108.3,254.6 109.1,253.7 110.0,253.8C110.9,253.9 112.0,256.2 113.0,255.7C114.0,255.3 115.0,252.1 116.0,251.2C117.0,250.3 118.0,250.5 119.0,250.4C120.0,250.2 121.0,250.0 122.0,250.3C123.0,250.5 124.0,252.3 125.0,252.0C126.0,251.6 127.0,249.0 128.0,248.2C129.0,247.4 130.0,247.3 131.0,247.3C132.0,247.3 133.0,248.1 134.0,248.0C135.0,248.0 135.8,247.5 137.0,247.0C138.2,246.5 139.7,243.9 141.0,244.8C142.3,245.7 143.6,253.3 145.0,252.5C146.4,251.8 148.1,240.1 149.5,240.2C150.9,240.3 152.1,253.6 153.5,253.2C154.9,252.7 156.3,237.0 157.7,237.6C159.1,238.2 160.6,257.1 162.0,256.7C163.4,256.3 164.8,234.4 166.0,235.3C167.2,236.2 168.2,244.7 169.0,262.2C169.8,279.7 170.1,340.4 170.6,340.3C171.1,340.2 171.6,279.6 172.2,261.7C172.8,243.9 173.5,234.4 174.3,233.1C175.1,231.8 176.3,246.4 177.0,254.0C177.7,261.7 178.0,279.8 178.5,279.0C179.0,278.3 179.4,258.4 180.0,249.4C180.6,240.3 181.2,225.6 182.3,224.9C183.4,224.1 185.4,245.9 186.8,244.8C188.2,243.8 189.2,220.3 190.6,218.6C192.0,216.9 193.6,235.3 195.0,234.8C196.4,234.3 197.7,216.1 199.0,215.4C200.3,214.7 201.6,231.4 203.0,230.6C204.4,229.7 205.9,212.3 207.3,210.1C208.7,208.0 210.1,218.2 211.5,217.4C212.9,216.7 214.2,206.6 215.6,205.4C217.0,204.2 218.6,210.9 220.0,210.2C221.4,209.4 223.2,203.1 224.0,201.1C224.8,199.0 224.2,198.9 225.0,197.8C225.8,196.7 227.9,195.4 229.0,194.5C230.1,193.6 230.7,192.8 231.5,192.5C232.3,192.3 233.1,192.8 234.0,193.1C234.9,193.3 236.0,194.4 237.0,194.2C238.0,194.0 239.0,192.6 240.0,191.8C241.0,191.1 242.0,189.3 243.0,189.6C244.0,189.8 244.8,191.7 246.0,193.2C247.2,194.8 249.0,197.4 250.0,199.0C251.0,200.6 251.2,204.1 252.0,203.0C252.8,201.9 254.0,193.4 255.0,192.4C256.0,191.3 257.2,197.6 258.0,196.6C258.8,195.5 259.2,186.4 260.0,186.2C260.8,185.9 262.0,195.0 263.0,195.0C264.0,195.0 265.0,189.8 266.0,186.0C267.0,182.2 268.0,176.4 269.0,172.2C270.0,168.0 271.0,164.3 272.0,160.8C273.0,157.3 274.0,154.2 275.0,151.3C276.0,148.4 277.0,145.8 278.0,143.5C279.0,141.2 280.0,139.1 281.0,137.2C282.0,135.3 283.0,133.6 284.0,132.1C285.0,130.6 286.0,129.3 287.0,128.1C288.0,127.0 289.0,126.0 290.0,125.1C291.0,124.2 292.0,123.4 293.0,122.8C294.0,122.1 295.0,121.6 296.0,121.1C297.0,120.7 298.0,120.3 299.0,120.1C300.0,119.8 301.0,119.6 302.0,119.6C303.0,119.5 304.0,119.5 305.0,119.6C306.0,119.6 307.0,119.8 308.0,120.1C309.0,120.3 310.0,120.7 311.0,121.1C312.0,121.6 313.0,122.1 314.0,122.8C315.0,123.4 316.0,124.2 317.0,125.1C318.0,126.0 319.0,127.0 320.0,128.1C321.0,129.3 322.0,130.6 323.0,132.1C324.0,133.6 325.0,135.3 326.0,137.2C327.0,139.1 328.0,141.2 329.0,143.5C330.0,145.8 331.0,148.4 332.0,151.3C333.0,154.2 334.0,157.3 335.0,160.8C336.0,164.3 337.0,168.0 338.0,172.2C339.0,176.4 340.0,182.2 341.0,186.0C342.0,189.8 343.0,195.0 344.0,195.0C345.0,195.0 346.0,186.4 347.0,185.8C348.0,185.3 348.8,188.5 350.0,191.6C351.2,194.7 352.7,204.0 354.0,204.4C355.3,204.9 356.7,196.7 358.0,194.2C359.3,191.7 360.7,189.9 362.0,189.2C363.3,188.5 364.7,188.8 366.0,189.9C367.3,191.0 368.7,194.9 370.0,195.7C371.3,196.6 372.7,195.1 374.0,195.0C375.3,194.8 376.7,193.9 378.0,194.9C379.3,196.0 380.5,199.0 381.8,201.4C383.1,203.7 384.4,208.2 385.8,209.0C387.2,209.9 388.8,205.1 390.2,206.4C391.6,207.8 392.9,216.6 394.3,217.3C395.7,218.0 397.1,208.2 398.5,210.6C399.9,213.0 401.4,231.0 402.8,231.7C404.2,232.4 405.5,214.6 406.8,215.0C408.1,215.5 409.4,233.6 410.8,234.3C412.2,235.1 413.8,217.8 415.2,219.4C416.6,221.0 417.6,243.1 419.0,243.9C420.4,244.8 422.4,223.5 423.5,224.4C424.6,225.3 425.2,240.1 425.8,249.3C426.4,258.4 426.8,278.4 427.3,279.2C427.8,280.0 428.1,261.6 428.8,254.0C429.5,246.4 430.7,232.4 431.5,233.6C432.3,234.8 433.0,243.5 433.6,261.2C434.2,278.8 434.7,339.3 435.2,339.4C435.7,339.5 436.0,278.9 436.8,261.8C437.6,244.7 438.6,237.9 439.8,236.8C441.0,235.7 442.4,254.9 443.8,255.1C445.2,255.3 446.7,238.0 448.1,237.9C449.5,237.7 450.9,253.4 452.3,254.1C453.7,254.8 454.9,241.9 456.3,241.8C457.7,241.8 459.4,253.2 460.8,253.7C462.2,254.2 463.5,245.8 464.8,244.8C466.1,243.8 467.6,247.2 468.8,247.5C470.0,247.8 470.8,246.9 471.8,246.8C472.8,246.8 473.8,246.9 474.8,247.2C475.8,247.5 476.8,248.0 477.8,248.8C478.8,249.6 479.8,251.9 480.8,252.0C481.8,252.1 482.8,249.5 483.8,249.2C484.8,248.9 485.8,249.9 486.8,250.3C487.8,250.7 488.8,250.7 489.8,251.4C490.8,252.1 491.8,254.0 492.8,254.4C493.8,254.8 494.9,253.7 495.8,254.0C496.7,254.3 497.5,255.6 498.3,256.2C499.1,256.8 499.9,256.9 500.8,257.5C501.7,258.1 502.8,259.7 503.8,259.9C504.8,260.1 505.8,258.8 506.8,258.8C507.8,258.9 508.8,259.7 509.8,260.2C510.8,260.8 511.8,261.3 512.8,262.1C513.8,262.9 514.6,264.5 515.8,265.0C517.0,265.5 518.6,265.2 519.8,265.4C521.0,265.7 521.8,266.1 522.8,266.5C523.8,267.0 524.8,267.3 525.8,268.3C526.8,269.2 527.9,270.8 528.8,272.4C529.7,274.0 530.4,274.3 531.2,278.0C532.0,281.8 533.1,292.1 533.5,294.9" stroke="#6db549" stroke-width="3.2"/>
<path d="M73.5,258.0C74.0,258.2 75.3,258.9 76.2,259.4C77.2,259.9 78.1,260.0 79.0,261.1C79.9,262.2 80.7,264.6 81.5,266.0C82.3,267.4 83.2,268.3 84.0,269.4C84.8,270.6 85.6,271.8 86.3,273.0C87.1,274.2 87.9,275.6 88.7,276.7C89.4,277.7 90.3,279.9 91.0,279.4C91.7,279.0 92.2,274.5 93.0,274.0C93.8,273.6 95.0,275.8 96.0,276.7C97.0,277.7 98.0,279.9 99.0,279.5C100.0,279.1 101.0,275.7 102.0,274.3C103.0,272.8 104.0,271.1 105.0,270.6C106.0,270.2 107.0,271.1 108.0,271.8C109.0,272.4 110.0,273.6 111.0,274.6C112.0,275.5 112.8,276.6 113.8,277.3C114.7,278.1 115.6,277.2 116.5,279.2C117.4,281.2 118.3,286.3 119.2,289.4C120.2,292.5 121.0,297.9 122.0,297.8C123.0,297.8 124.0,292.0 125.0,289.3C126.0,286.5 127.0,283.1 128.0,281.2C129.0,279.4 130.0,279.1 131.0,278.1C132.0,277.2 133.0,276.3 134.0,275.6C135.0,274.9 136.0,274.7 137.0,273.8C138.0,272.9 138.8,268.4 140.0,270.2C141.2,272.0 143.0,281.2 144.5,284.4C146.0,287.7 147.8,288.6 149.0,289.5C150.2,290.5 151.0,291.1 152.0,290.2C153.0,289.2 154.0,284.6 155.0,283.9C156.0,283.2 157.0,286.3 158.0,285.9C159.0,285.5 160.0,284.4 161.0,281.6C162.0,278.8 163.0,271.3 164.0,269.0C165.0,266.7 166.0,268.3 167.0,267.8C168.0,267.2 169.0,265.2 170.0,266.0C171.0,266.8 171.8,268.6 173.0,272.3C174.2,275.9 175.7,283.0 177.0,287.9C178.3,292.8 179.7,301.1 181.0,301.6C182.3,302.1 183.7,294.3 185.0,290.9C186.3,287.4 187.8,284.3 189.0,280.9C190.2,277.5 191.0,272.4 192.0,270.6C193.0,268.8 194.0,270.2 195.0,269.9C196.0,269.5 197.0,267.9 198.0,268.7C199.0,269.4 200.0,272.9 201.0,274.5C202.0,276.2 203.2,278.2 204.0,278.6C204.8,279.1 205.2,275.9 206.0,277.2C206.8,278.5 208.0,284.5 209.0,286.5C210.0,288.4 211.2,288.8 212.0,288.8C212.8,288.8 213.0,285.6 214.0,286.6C215.0,287.6 216.7,294.9 218.0,294.8C219.3,294.7 220.7,286.2 222.0,285.8C223.3,285.5 224.7,292.9 226.0,292.6C227.3,292.3 228.7,282.6 230.0,284.1C231.3,285.6 232.7,300.4 234.0,301.5C235.3,302.6 237.0,293.7 238.0,290.7C239.0,287.8 239.1,285.1 240.0,283.9C240.9,282.8 242.5,286.2 243.5,283.9C244.5,281.5 245.2,273.4 246.0,269.8C246.8,266.2 247.0,264.5 248.0,262.2C249.0,260.0 250.9,258.7 252.0,256.2C253.1,253.8 253.7,250.6 254.5,247.5C255.3,244.4 256.2,240.1 257.0,237.6C257.8,235.0 258.7,233.9 259.5,232.3C260.3,230.6 261.2,229.6 262.0,227.7C262.8,225.8 263.7,223.4 264.5,220.8C265.3,218.3 266.1,214.7 267.0,212.5C267.9,210.2 269.0,208.8 270.0,207.3C271.0,205.8 272.0,202.4 273.0,203.5C274.0,204.7 275.2,210.2 276.0,214.3C276.8,218.4 277.3,228.0 278.0,228.2C278.7,228.4 279.3,220.2 280.0,215.5C280.7,210.8 281.0,209.3 282.0,200.0C283.0,190.7 284.7,173.0 286.0,160.0C287.3,147.0 288.4,132.7 289.6,122.0C290.8,111.3 291.8,104.2 293.0,96.0C294.2,87.8 295.4,79.7 296.6,73.0C297.9,66.3 299.3,59.9 300.5,56.0C301.7,52.1 302.6,49.6 303.6,49.6C304.6,49.6 305.5,52.1 306.7,56.0C307.9,59.9 309.4,66.3 310.6,73.0C311.9,79.7 313.0,87.8 314.2,96.0C315.4,104.2 316.5,111.3 317.6,122.0C318.7,132.7 319.8,146.8 321.0,160.0C322.2,173.2 324.0,191.9 325.0,201.0C326.0,210.1 326.4,209.7 327.0,214.4C327.6,219.1 327.9,229.0 328.6,229.1C329.3,229.2 330.1,219.0 331.0,214.9C331.9,210.8 333.0,205.0 334.0,204.4C335.0,203.9 336.1,209.3 337.0,211.4C337.9,213.6 338.7,215.0 339.5,217.3C340.3,219.6 341.1,222.9 342.0,225.3C342.9,227.6 344.1,229.5 345.0,231.3C345.9,233.2 346.7,234.8 347.5,236.4C348.3,237.9 349.1,237.4 350.0,240.5C350.9,243.5 351.8,251.4 353.0,254.6C354.2,257.8 355.8,257.7 357.0,259.8C358.2,262.0 359.2,264.7 360.0,267.5C360.8,270.3 361.3,274.0 362.0,276.6C362.7,279.3 363.2,282.9 364.0,283.7C364.8,284.5 366.0,280.0 367.0,281.5C368.0,283.0 369.1,289.3 370.0,292.8C370.9,296.3 371.6,303.7 372.6,302.6C373.6,301.5 374.8,288.0 376.0,286.3C377.2,284.5 378.7,292.3 380.0,292.3C381.3,292.2 382.8,286.3 384.0,285.9C385.2,285.4 386.0,288.0 387.0,289.5C388.0,290.9 388.8,295.1 390.0,294.6C391.2,294.1 392.8,287.5 394.0,286.5C395.2,285.5 395.8,290.0 397.0,288.7C398.2,287.4 399.8,280.2 401.0,278.6C402.2,277.1 402.8,281.0 404.0,279.2C405.2,277.5 406.8,269.9 408.0,268.3C409.2,266.6 410.0,269.1 411.0,269.1C412.0,269.2 412.8,266.9 414.0,268.5C415.2,270.2 416.7,276.1 418.0,279.2C419.3,282.2 420.9,284.2 422.0,286.8C423.1,289.3 423.5,291.7 424.3,294.4C425.1,297.1 425.7,303.7 426.6,302.8C427.6,301.9 428.9,293.1 430.0,289.0C431.1,284.9 431.8,281.9 433.0,278.1C434.2,274.4 435.9,268.4 437.0,266.7C438.1,264.9 438.7,267.0 439.5,267.4C440.3,267.9 440.9,266.5 442.0,269.4C443.1,272.3 444.9,282.1 446.0,284.7C447.1,287.4 447.7,285.1 448.5,285.1C449.3,285.0 449.9,283.7 451.0,284.5C452.1,285.4 453.9,289.7 455.0,290.4C456.1,291.2 456.7,289.5 457.5,288.9C458.3,288.3 459.2,288.5 460.0,286.8C460.8,285.0 461.7,280.8 462.5,278.5C463.3,276.1 463.9,274.1 465.0,272.8C466.1,271.5 467.7,269.8 469.0,270.7C470.3,271.6 471.9,276.8 473.0,278.2C474.1,279.5 474.7,278.7 475.5,278.9C476.3,279.0 477.1,278.1 478.0,279.3C478.9,280.5 480.0,283.6 481.0,286.2C482.0,288.8 483.1,294.8 484.0,294.8C484.9,294.9 485.7,288.9 486.5,286.5C487.3,284.1 488.2,281.9 489.0,280.4C489.8,278.9 490.7,278.2 491.5,277.6C492.3,276.9 493.2,277.1 494.0,276.6C494.8,276.0 495.7,275.0 496.5,274.2C497.3,273.3 497.9,272.6 499.0,271.6C500.1,270.7 501.7,267.3 503.0,268.4C504.3,269.5 505.7,277.6 507.0,278.4C508.3,279.2 509.7,273.2 511.0,273.2C512.3,273.2 513.7,279.0 515.0,278.5C516.3,278.0 517.8,271.9 519.0,270.1C520.2,268.3 521.0,268.6 522.0,267.6C523.0,266.7 524.0,265.4 525.0,264.2C526.0,263.0 527.0,261.5 528.0,260.6C529.0,259.7 530.1,258.3 531.0,258.8C531.9,259.2 533.1,262.7 533.5,263.5" stroke="#354b9b" stroke-width="3.2"/>
</g>
<rect x="73.8" y="15.3" width="459.99999999999994" height="347.2" fill="none" stroke="#4a4a4a" stroke-width="1.2"/>
<path d="M150.5,362.5v-4.5M150.5,15.3v4.5M227.1,362.5v-4.5M227.1,15.3v4.5M303.8,362.5v-4.5M303.8,15.3v4.5M380.5,362.5v-4.5M380.5,15.3v4.5M457.1,362.5v-4.5M457.1,15.3v4.5M73.8,73.2h4.5M533.8,73.2h-4.5M73.8,131.0h4.5M533.8,131.0h-4.5M73.8,188.9h4.5M533.8,188.9h-4.5M73.8,246.8h4.5M533.8,246.8h-4.5M73.8,304.6h4.5M533.8,304.6h-4.5" stroke="#4a4a4a" stroke-width="1" fill="none"/>
<g font-weight="bold" font-size="25.3" fill="#231f20" stroke="#231f20" stroke-width="0.45">
<text x="70.0" y="389.4" text-anchor="middle" textLength="33.2" lengthAdjust="spacingAndGlyphs">-90</text>
<text x="147.6" y="389.4" text-anchor="middle" textLength="33.2" lengthAdjust="spacingAndGlyphs">-60</text>
<text x="222.8" y="389.4" text-anchor="middle" textLength="33.2" lengthAdjust="spacingAndGlyphs">-30</text>
<text x="303.9" y="389.4" text-anchor="middle" textLength="12.7" lengthAdjust="spacingAndGlyphs">0</text>
<text x="380.1" y="389.4" text-anchor="middle" textLength="25.3" lengthAdjust="spacingAndGlyphs">30</text>
<text x="456.9" y="389.4" text-anchor="middle" textLength="25.3" lengthAdjust="spacingAndGlyphs">60</text>
<text x="533.0" y="389.4" text-anchor="middle" textLength="25.3" lengthAdjust="spacingAndGlyphs">90</text>
<text x="70" y="23.7" text-anchor="end" textLength="25.3" lengthAdjust="spacingAndGlyphs">40</text>
<text x="70" y="81.6" text-anchor="end" textLength="25.3" lengthAdjust="spacingAndGlyphs">30</text>
<text x="70" y="139.4" text-anchor="end" textLength="25.3" lengthAdjust="spacingAndGlyphs">20</text>
<text x="70" y="197.3" text-anchor="end" textLength="25.3" lengthAdjust="spacingAndGlyphs">10</text>
<text x="70" y="255.2" text-anchor="end" textLength="12.7" lengthAdjust="spacingAndGlyphs">0</text>
<text x="70" y="313.0" text-anchor="end" textLength="33.2" lengthAdjust="spacingAndGlyphs">-10</text>
<text x="70" y="370.9" text-anchor="end" textLength="33.2" lengthAdjust="spacingAndGlyphs">-20</text>
</g>
<text x="303.3" y="416.4" font-weight="bold" font-size="24.6" fill="#231f20" stroke="#231f20" stroke-width="0.45" text-anchor="middle" textLength="161.4" lengthAdjust="spacingAndGlyphs">Theta (degree)</text>
<text transform="translate(24.9,190) rotate(-90)" font-weight="bold" font-size="22.6" letter-spacing="1.1" fill="#231f20" stroke="#231f20" stroke-width="0.6" text-anchor="middle" textLength="276" lengthAdjust="spacingAndGlyphs">Radiation pattern (dB)</text>
<rect x="388.5" y="22" width="139.5" height="180" fill="#fff" stroke="#333" stroke-width="1.3"/>
<path d="M396.5,41.5H433.2" stroke="#d15634" stroke-width="2.9"/>
<text x="437" y="51.9" font-weight="bold" font-style="italic" font-size="27.5" fill="#231f20" stroke="#231f20" stroke-width="0.4" textLength="45.6" lengthAdjust="spacingAndGlyphs">R=1</text>
<text class="s" x="483.8" y="51.9" font-style="italic" font-weight="bold" font-size="22.5" fill="#231f20" textLength="13.4" lengthAdjust="spacingAndGlyphs">λ</text>
<path d="M396.5,76.7H433.2" stroke="#ac55a3" stroke-width="2.9"/>
<text x="443.5" y="87.1" font-weight="bold" font-style="italic" font-size="27.5" fill="#231f20" stroke="#231f20" stroke-width="0.4" textLength="45.6" lengthAdjust="spacingAndGlyphs">R=5</text>
<text class="s" x="490.3" y="87.1" font-style="italic" font-weight="bold" font-size="22.5" fill="#231f20" textLength="13.4" lengthAdjust="spacingAndGlyphs">λ</text>
<path d="M396.5,112H433.2" stroke="#72c3d7" stroke-width="2.9"/>
<text x="437" y="122.4" font-weight="bold" font-style="italic" font-size="27.5" fill="#231f20" stroke="#231f20" stroke-width="0.4" textLength="45.6" lengthAdjust="spacingAndGlyphs">R=7</text>
<text class="s" x="483.8" y="122.4" font-style="italic" font-weight="bold" font-size="22.5" fill="#231f20" textLength="13.4" lengthAdjust="spacingAndGlyphs">λ</text>
<path d="M396.5,147.2H433.2" stroke="#6db549" stroke-width="2.9"/>
<text x="443.5" y="157.6" font-weight="bold" font-style="italic" font-size="27.5" fill="#231f20" stroke="#231f20" stroke-width="0.4" textLength="58.8" lengthAdjust="spacingAndGlyphs">R=10</text>
<text class="s" x="503.5" y="157.6" font-style="italic" font-weight="bold" font-size="22.5" fill="#231f20" textLength="13.4" lengthAdjust="spacingAndGlyphs">λ</text>
<path d="M396.5,182.4H433.2" stroke="#354b9b" stroke-width="2.9"/>
<text x="437" y="192.8" font-weight="bold" font-style="italic" font-size="27.5" fill="#231f20" stroke="#231f20" stroke-width="0.4" textLength="71.6" lengthAdjust="spacingAndGlyphs">R=100</text>
<text class="s" x="509.8" y="192.8" font-style="italic" font-weight="bold" font-size="22.5" fill="#231f20" textLength="13.4" lengthAdjust="spacingAndGlyphs">λ</text>
</svg></body></html>
